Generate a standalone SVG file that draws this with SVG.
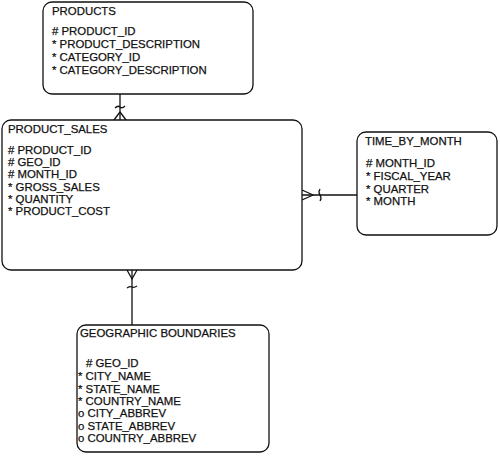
<svg xmlns="http://www.w3.org/2000/svg" width="500" height="470" viewBox="0 0 500 470">
<style>
.box{fill:#fff;stroke:#111;stroke-width:1.3}
text{font-family:"Liberation Sans",Arial,sans-serif;font-size:11.4px;fill:#111;stroke:#111;stroke-width:0.25}
.ln{fill:none;stroke:#111;stroke-width:1.3}
</style>
<rect width="500" height="470" fill="#fff"/>
<g id="connectors">
  <!-- PRODUCTS - PRODUCT_SALES -->
  <line class="ln" x1="120" y1="94" x2="120" y2="120"/>
  <path class="ln" d="M115,108 Q118,105 120,107 T125,106"/>
  <path class="ln" d="M120,112 L114,120 M120,112 L126,120"/>
  <!-- PRODUCT_SALES - TIME_BY_MONTH -->
  <line class="ln" x1="302" y1="195" x2="357" y2="195"/>
  <path class="ln" d="M302,190 L313,195 L302,200"/>
  <path class="ln" d="M320,189 Q318,192 320,195 T320,201"/>
  <!-- PRODUCT_SALES - GEOGRAPHIC BOUNDARIES -->
  <line class="ln" x1="132" y1="270" x2="132" y2="325"/>
  <path class="ln" d="M127,270 L132,279 L137,270"/>
  <path class="ln" d="M127,288 Q130,286 132,287 T137,286"/>
</g>
<g id="products">
  <rect class="box" x="43" y="2" width="210" height="92" rx="9"/>
  <text x="52" y="15">PRODUCTS</text>
  <text x="52" y="35"># PRODUCT_ID</text>
  <text x="52" y="48">* PRODUCT_DESCRIPTION</text>
  <text x="52" y="61">* CATEGORY_ID</text>
  <text x="52" y="74">* CATEGORY_DESCRIPTION</text>
</g>
<g id="product_sales">
  <rect class="box" x="2" y="120" width="300" height="150" rx="9"/>
  <text x="8" y="133">PRODUCT_SALES</text>
  <text x="8" y="154"># PRODUCT_ID</text>
  <text x="8" y="166"># GEO_ID</text>
  <text x="8" y="178"># MONTH_ID</text>
  <text x="8" y="191">* GROSS_SALES</text>
  <text x="8" y="203">* QUANTITY</text>
  <text x="8" y="215">* PRODUCT_COST</text>
</g>
<g id="time_by_month">
  <rect class="box" x="357" y="132" width="140" height="103" rx="9"/>
  <text x="365" y="145">TIME_BY_MONTH</text>
  <text x="366" y="167"># MONTH_ID</text>
  <text x="366" y="180">* FISCAL_YEAR</text>
  <text x="366" y="193">* QUARTER</text>
  <text x="366" y="205">* MONTH</text>
</g>
<g id="geographic_boundaries">
  <rect class="box" x="77" y="325" width="192" height="127" rx="9"/>
  <text x="80" y="337">GEOGRAPHIC BOUNDARIES</text>
  <text x="86" y="367"># GEO_ID</text>
  <text x="78" y="380">* CITY_NAME</text>
  <text x="78" y="393">* STATE_NAME</text>
  <text x="78" y="405">* COUNTRY_NAME</text>
  <text x="78" y="417">o CITY_ABBREV</text>
  <text x="78" y="430">o STATE_ABBREV</text>
  <text x="78" y="442">o COUNTRY_ABBREV</text>
</g>
</svg>
